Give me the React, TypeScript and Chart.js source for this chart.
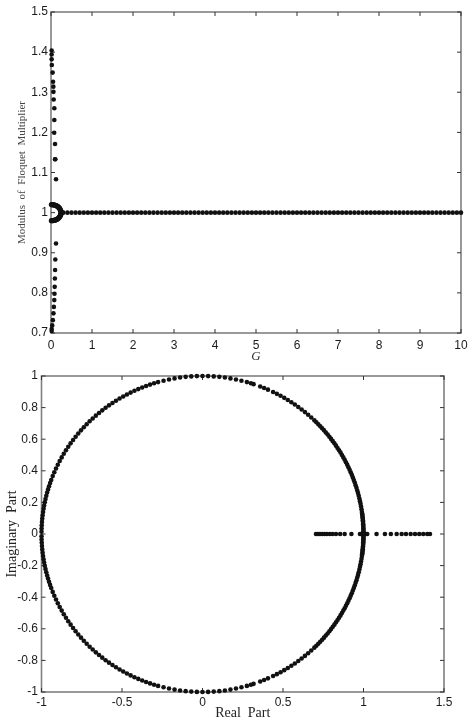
import { useEffect, useRef } from "react";
import { Chart, registerables } from "chart.js";

Chart.register(...registerables);

// ---------- Top chart: modulus of Floquet multiplier vs G ----------
const G_ON_CIRCLE = [
  0.3, 0.4, 0.5, 0.6, 0.7, 0.8, 0.9, 1.0, 1.1, 1.2, 1.3, 1.4, 1.5, 1.6, 1.7, 1.8, 1.9, 2.0,
  2.1, 2.2, 2.3, 2.4, 2.5, 2.6, 2.7, 2.8, 2.9, 3.0, 3.1, 3.2, 3.3, 3.4, 3.5, 3.6, 3.7, 3.8, 3.9, 4.0,
  4.1, 4.2, 4.3, 4.4, 4.5, 4.6, 4.7, 4.8, 4.9, 5.0, 5.1, 5.2, 5.3, 5.4, 5.5, 5.6, 5.7, 5.8, 5.9, 6.0,
  6.1, 6.2, 6.3, 6.4, 6.5, 6.6, 6.7, 6.8, 6.9, 7.0, 7.1, 7.2, 7.3, 7.4, 7.5, 7.6, 7.7, 7.8, 7.9, 8.0,
  8.1, 8.2, 8.3, 8.4, 8.5, 8.6, 8.7, 8.8, 8.9, 9.0, 9.1, 9.2, 9.3, 9.4, 9.5, 9.6, 9.7, 9.8, 9.9, 10.0,
];
const MODULUS_ON_CIRCLE = 1;

const G_UPPER = [0.016, 0.016, 0.016, 0.02, 0.04, 0.05, 0.057, 0.06, 0.065, 0.081, 0.081, 0.078, 0.098, 0.098, 0.105, 0.122];
const MOD_UPPER = [1.404, 1.394, 1.382, 1.368, 1.349, 1.326, 1.314, 1.301, 1.282, 1.26, 1.231, 1.199, 1.171, 1.133, 1.133, 1.083];

const G_LOWER = [0.122, 0.105, 0.1, 0.095, 0.09, 0.085, 0.08, 0.07, 0.06, 0.045, 0.03, 0.016, 0.016];
const MOD_LOWER = [0.923, 0.883, 0.857, 0.836, 0.815, 0.798, 0.782, 0.765, 0.749, 0.732, 0.719, 0.71, 0.705];

// pair of real multipliers near 1 merging onto the unit circle
const G_ARC = [0.01, 0.03, 0.05, 0.07, 0.09, 0.11, 0.13, 0.15, 0.17, 0.19, 0.205, 0.22, 0.23, 0.238, 0.245, 0.25];
const MOD_ARC_UP = [1.02, 1.0199, 1.0197, 1.0193, 1.0188, 1.0182, 1.0174, 1.0163, 1.0149, 1.013, 1.0112, 1.0088, 1.0066, 1.0046, 1.0024, 1.0];
const MOD_ARC_DOWN = [0.98, 0.9801, 0.9803, 0.9807, 0.9812, 0.9818, 0.9826, 0.9837, 0.9851, 0.987, 0.9888, 0.9912, 0.9934, 0.9954, 0.9976, 1.0];

const X1_TICKS = [0, 1, 2, 3, 4, 5, 6, 7, 8, 9, 10];
const X1_LABELS = ["0", "1", "2", "3", "4", "5", "6", "7", "8", "9", "10"];
const Y1_TICKS = [0.7, 0.8, 0.9, 1.0, 1.1, 1.2, 1.3, 1.4, 1.5];
const Y1_LABELS = ["0.7", "0.8", "0.9", "1", "1.1", "1.2", "1.3", "1.4", "1.5"];

// ---------- Bottom chart: multipliers in the complex plane ----------
// phase (degrees) of the multipliers on the unit circle, upper half; lower half are conjugates
const PHASE_DEG = [
  0, 0.5, 1, 1.5, 2, 2.5, 3, 3.5, 4, 4.5, 5, 5.5, 6, 6.5, 7, 7.5, 8, 9, 10, 11, 12, 13, 14, 15, 16,
  17, 18, 19, 20, 21, 22, 23, 24, 25, 26, 27, 28, 29, 30, 31, 32, 33, 34, 35, 36, 37, 38, 39, 40, 41,
  42, 43, 44, 45, 46, 47.5, 49, 50.5, 52, 53.5, 55, 56.5, 58, 59.5, 61, 62.5, 64, 66, 67.5, 69, 71.5,
  72.5, 74, 76, 78, 80, 82, 84, 86, 88, 90, 92, 94, 96, 98, 100, 102, 104, 106, 107.5, 109, 110.5, 112,
  113.5, 115, 116.5, 118, 119.5, 121, 122.5, 124, 125.5, 127, 128.5, 130, 131.5, 133, 134.5, 136,
  137.5, 139, 140.5, 142, 143.5, 145, 146.5, 148, 149.5, 151, 152.5, 154, 155.5, 157, 158.5, 160,
  161.2, 162.4, 163.6, 164.8, 166, 167.2, 168.4, 169.6, 170.8, 172, 173.2, 174.4, 175.6, 176.8, 178,
  179.2,
];
const REAL_MULTIPLIERS = [
  0.705, 0.716, 0.729, 0.743, 0.758, 0.773, 0.791, 0.808, 0.829, 0.855, 0.883, 0.925, 0.978, 0.985,
  0.992, 1.0, 1.008, 1.015, 1.023, 1.081, 1.133, 1.17, 1.206, 1.237, 1.264, 1.293, 1.32, 1.346, 1.371,
  1.396, 1.413,
];

const X2_TICKS = [-1, -0.5, 0, 0.5, 1, 1.5];
const X2_LABELS = ["-1", "-0.5", "0", "0.5", "1", "1.5"];
const Y2_TICKS = [-1, -0.8, -0.6, -0.4, -0.2, 0, 0.2, 0.4, 0.6, 0.8, 1];
const Y2_LABELS = ["-1", "-0.8", "-0.6", "-0.4", "-0.2", "0", "0.2", "0.4", "0.6", "0.8", "1"];

const DOT = "#111111";
const TICK_FONT = { family: "'Liberation Sans', Arial, sans-serif", size: 12 };
const SERIF = "'Liberation Serif', 'Times New Roman', serif";

const framePlugin = {
  id: "matlabFrame",
  beforeDatasetsDraw(chart: any) {
    const { ctx, chartArea: a, scales } = chart;
    ctx.save();
    ctx.strokeStyle = "#808080";
    ctx.lineWidth = 1.6;
    ctx.strokeRect(a.left, a.top, a.right - a.left, a.bottom - a.top);
    ctx.strokeStyle = "#333";
    ctx.lineWidth = 1;
    const L = 4;
    const seg = (x1: number, y1: number, x2: number, y2: number) => {
      ctx.beginPath();
      ctx.moveTo(x1, y1);
      ctx.lineTo(x2, y2);
      ctx.stroke();
    };
    scales.x.ticks.forEach((t: any) => {
      const p = scales.x.getPixelForValue(t.value);
      seg(p, a.bottom, p, a.bottom - L);
      seg(p, a.top, p, a.top + L);
    });
    scales.y.ticks.forEach((t: any) => {
      const p = scales.y.getPixelForValue(t.value);
      seg(a.left, p, a.left + L, p);
      seg(a.right, p, a.right - L, p);
    });
    ctx.restore();
  },
};

function axis(
  min: number,
  max: number,
  ticks: number[],
  labels: string[],
  size: number,
  isX: boolean,
  pad: number,
  title: any
) {
  return {
    type: "linear",
    min,
    max,
    border: { display: false },
    grid: { display: false, drawTicks: false },
    afterBuildTicks: (s: any) => {
      s.ticks = ticks.map((v) => ({ value: v }));
    },
    afterFit: (s: any) => {
      if (isX) s.height = size;
      else s.width = size;
    },
    ticks: {
      autoSkip: false,
      maxRotation: 0,
      padding: pad,
      color: "#1a1a1a",
      font: TICK_FONT,
      callback: (_v: any, i: number) => labels[i],
    },
    title,
  };
}

function useChart(ref: any, makeConfig: () => any) {
  useEffect(() => {
    if (!ref.current) return;
    const c = new Chart(ref.current, makeConfig());
    return () => c.destroy();
  }, []);
}

const ds = (data: any[], r = 2.3) => ({
  data,
  showLine: false,
  pointRadius: r,
  pointBorderWidth: 0,
  pointBackgroundColor: DOT,
  clip: false,
});

export default function App() {
  const topRef = useRef<HTMLCanvasElement>(null);
  const botRef = useRef<HTMLCanvasElement>(null);

  useChart(topRef, () => {
    const pts = (xs: number[], ys: number[]) => xs.map((x, i) => ({ x, y: ys[i] }));
    return {
      type: "scatter",
      data: {
        datasets: [
          ds(G_ON_CIRCLE.map((g) => ({ x: g, y: MODULUS_ON_CIRCLE }))),
          ds(pts(G_UPPER, MOD_UPPER)),
          ds(pts(G_LOWER, MOD_LOWER)),
          ds(pts(G_ARC, MOD_ARC_UP), 2.6),
          ds(pts(G_ARC, MOD_ARC_DOWN), 2.6),
        ],
      },
      options: {
        responsive: false,
        animation: false,
        layout: { padding: { left: 0, right: 13, top: 12, bottom: 0 } },
        plugins: { legend: { display: false }, tooltip: { enabled: false } },
        scales: {
          x: axis(0, 10, X1_TICKS, X1_LABELS, 31, true, 5.3, {
            display: true,
            text: "G",
            color: "#333",
            font: { family: SERIF, size: 13, style: "italic" },
            padding: { top: 0, bottom: 0 },
          }),
          y: axis(0.7, 1.5, Y1_TICKS, Y1_LABELS, 51, false, 3, {
            display: true,
            text: "Modulus  of  Floquet  Multiplier",
            color: "#444",
            font: { family: SERIF, size: 11 },
            padding: { top: 16, bottom: 0 },
          }),
        },
      },
      plugins: [framePlugin],
    };
  });

  useChart(botRef, () => {
    const upper = PHASE_DEG.map((d) => ({
      x: Math.cos((d * Math.PI) / 180),
      y: Math.sin((d * Math.PI) / 180),
    }));
    const lower = upper.map((p) => ({ x: p.x, y: -p.y }));
    return {
      type: "scatter",
      data: {
        datasets: [ds(upper), ds(lower), ds(REAL_MULTIPLIERS.map((r) => ({ x: r, y: 0 })))],
      },
      options: {
        responsive: false,
        animation: false,
        layout: { padding: { left: 0, right: 30, top: 16, bottom: 0 } },
        plugins: { legend: { display: false }, tooltip: { enabled: false } },
        scales: {
          x: axis(-1, 1.5, X2_TICKS, X2_LABELS, 30, true, 3, {
            display: true,
            text: "Real  Part",
            color: "#222",
            font: { family: SERIF, size: 14 },
            padding: { top: 0, bottom: 0 },
          }),
          y: axis(-1, 1, Y2_TICKS, Y2_LABELS, 41.5, false, 3.5, {
            display: true,
            text: "Imaginary  Part",
            color: "#222",
            font: { family: SERIF, size: 14 },
            padding: { top: 4, bottom: 0 },
          }),
        },
      },
      plugins: [framePlugin],
    };
  });

  return (
    <div style={{ position: "absolute", left: 0, top: 0, width: 474, height: 722, background: "#fff" }}>
      <canvas
        ref={topRef}
        width={474}
        height={364}
        style={{ position: "absolute", left: 0, top: 0, width: 474, height: 364 }}
      />
      <canvas
        ref={botRef}
        width={474}
        height={362}
        style={{ position: "absolute", left: 0, top: 360, width: 474, height: 362 }}
      />
    </div>
  );
}
